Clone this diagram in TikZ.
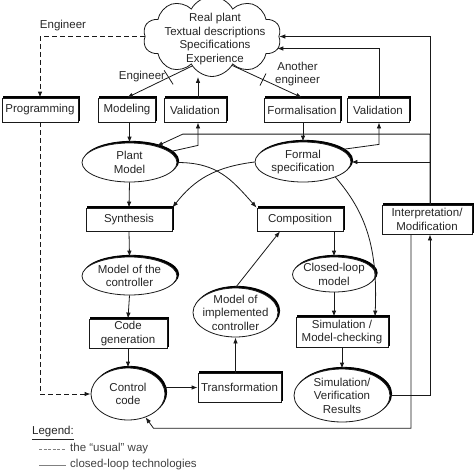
\documentclass[tikz,border=0pt]{standalone}
\usepackage{fontspec}
\setmainfont{Liberation Sans}
\usetikzlibrary{shapes.geometric,shapes.symbols,shadows,calc,arrows.meta}
\begin{document}
\begin{tikzpicture}[x=1pt,y=-1pt,
  font=\fontsize{11.5}{13.5}\selectfont,
  ln/.style={line width=0.8pt, draw=black!90},
  arr/.style={ln, -{Latex[length=6pt,width=4.5pt]}},
  dsh/.style={dash pattern=on 5pt off 3pt},
  shad/.style={copy shadow={shadow xshift=1.3pt, shadow yshift=1.3pt, fill=black, draw=black, line width=0.8pt}},
  eshad/.style={copy shadow={shadow xshift=1.7pt, shadow yshift=1.7pt, fill=black, draw=black, line width=0.8pt}},
  box/.style={rectangle, draw=black!90, line width=0.8pt, fill=white, inner sep=0pt, align=center, text=black!85, shad},
  ell/.style={ellipse, draw=black!90, line width=0.8pt, fill=white, inner sep=-16pt, align=center, text=black!85, eshad},
  lbl/.style={inner sep=0pt, align=center, text=black!85}
]
\useasboundingbox (0,0) rectangle (474,471);

% cloud
\node[cloud, draw=black!90, line width=0.8pt, fill=white, cloud puffs=10, cloud puff arc=125,
      cloud ignores aspect, minimum width=138pt, minimum height=80pt, inner sep=0pt]
      (cloud) at (212,36.5) {};
\node[lbl] (cloudtxt) at (215,39) {Real plant\\Textual descriptions\\Specifications\\Experience};

% top row of boxes
\node[box, minimum width=76pt, minimum height=24pt] (prog) at (40,110) {Programming};
\node[box, minimum width=57pt, minimum height=24pt] (model) at (127,110) {Modeling};
\node[box, minimum width=62pt, minimum height=24pt] (val1) at (195,110) {Validation};
\node[box, minimum width=76pt, minimum height=24pt] (formal) at (302,110) {Formalisation};
\node[box, minimum width=62pt, minimum height=24pt] (val2) at (378,110) {Validation};

% ellipses and boxes
\node[ell, minimum width=95pt, minimum height=39pt] (plant) at (129.5,162.5) {Plant\\Model};
\node[ell, minimum width=96pt, minimum height=40pt] (fspec) at (303,162) {Formal\\specification};
\node[box, minimum width=86pt, minimum height=23pt] (synth) at (129,219.5) {Synthesis};
\node[box, minimum width=86pt, minimum height=23pt] (comp) at (300,219.5) {Composition};
\node[box, minimum width=90pt, minimum height=29pt] (interp) at (427,219.5) {Interpretation/\\Modification};
\node[ell, minimum width=95pt, minimum height=38pt] (mctrl) at (129.5,276) {Model of the\\controller};
\node[ell, minimum width=83pt, minimum height=35pt] (closed) at (334,274.5) {Closed-loop\\model};
\node[box, minimum width=78pt, minimum height=29pt] (codegen) at (128,333.5) {Code\\generation};
\node[ell, minimum width=85pt, minimum height=49pt] (mimpl) at (235.5,312.5) {Model of\\implemented\\controller};
\node[box, minimum width=92pt, minimum height=30pt] (sim) at (342,332) {Simulation /\\Model-checking};
\node[ell, minimum width=74pt, minimum height=52pt] (ctrl) at (128,394) {Control\\code};
\node[box, minimum width=83pt, minimum height=29pt] (trans) at (239.5,387.5) {Transformation};
\node[ell, minimum width=96pt, minimum height=53pt] (res) at (342,395.5) {Simulation/\\Verification\\Results};

% labels
\node[lbl] (lbleng) at (63,26) {Engineer};
\node[lbl] (lbleng2) at (142,77) {Engineer};
\node[lbl] (lblano) at (297.5,74) {Another\\engineer};

% dashed "usual" way
\draw[arr, dsh] (cloud.west) -| (prog.north);
\draw[arr, dsh] (prog.south) |- (ctrl.west);

% engineer arrows with ticks
\draw[arr] (cloud.236) -- (model.north) coordinate[pos=0.36] (t1);
\draw[ln] ([shift={(-4.5,-7)}]t1) -- ([shift={(4.5,7)}]t1);
\draw[arr] (cloud.-55) -- (formal.north) coordinate[pos=0.44] (t2);
\draw[ln] ([shift={(-3,6)}]t2) -- ([shift={(3,-6)}]t2);

% validation links
\draw[arr] ([xshift=3pt]val1.north) -- ([xshift=3pt]val1.north |- cloud.south);
\draw[arr] (plant.15) -- ($(val1.south)+(3,23)$) -- ([xshift=3pt]val1.south);
\draw[arr] (fspec.18) -- ($(val2.south)+(1,22)$) -- ([xshift=1pt]val2.south);
\draw[arr] ([xshift=1pt]val2.north) |- ($(cloud.east)+(-2,12)$);

% feedback from interpretation
\draw[arr] ([xshift=3pt]interp.north) |- (cloud.east);
\draw[arr] ([xshift=3pt]interp.north) |- ($(plant.31)+(26,-12)$) -- (plant.31);
\draw[arr] ([xshift=3pt]interp.north) |- (fspec.east);
\draw[arr] ([xshift=-16pt]interp.south) |- ($(ctrl.-53.5)+(8,11)$) -- (ctrl.-53.5);
\draw[arr] (res.east) -| ([xshift=3pt]interp.south);

% main flow
\draw[arr] (plant.north |- model.south) -- (plant.north);
\draw[arr] (fspec.north |- formal.south) -- (fspec.north);
\draw[arr] (plant.south) -- (synth.north);
\draw[arr] (plant.east) .. controls +(40,0) and +(-25,-28) .. (comp.north west);
\draw[arr] (fspec.west) .. controls +(-40,5) and +(22,-28) .. (synth.north east);
\draw[arr] (fspec.-25) .. controls +(30,35) and +(3,-70) .. ([xshift=33pt]sim.north);
\draw[arr] (synth.south) -- (mctrl.north);
\draw[arr] (mctrl.south) -- (codegen.north);
\draw[arr] (codegen.south) -- (ctrl.north);
\draw[arr] (ctrl.east |- trans.west) -- (trans.west);
\draw[arr] (mimpl.south |- trans.north) -- (mimpl.south);
\draw[arr] (mimpl.north) -- ([xshift=-20pt]comp.south);
\draw[arr] (closed.north |- comp.south) -- (closed.north);
\draw[arr] (closed.south) -- (closed.south |- sim.north);
\draw[arr] (sim.south) -- (res.north);

% legend
\node[lbl, anchor=west] (leg) at (32,433) {\underline{Legend:}};
\node[lbl, anchor=west, text=black!75] (leg1) at (70,449) {the “usual” way};
\node[lbl, anchor=west, text=black!75] (leg2) at (70,465) {closed-loop technologies};
\draw[gray, line width=0.6pt, dash pattern=on 3pt off 1.5pt] ($(leg1.west)+(-31,0)$) -- ++(27,0);
\draw[gray, line width=0.6pt] ($(leg2.west)+(-31,0)$) -- ++(27,0);
\end{tikzpicture}
\end{document}
